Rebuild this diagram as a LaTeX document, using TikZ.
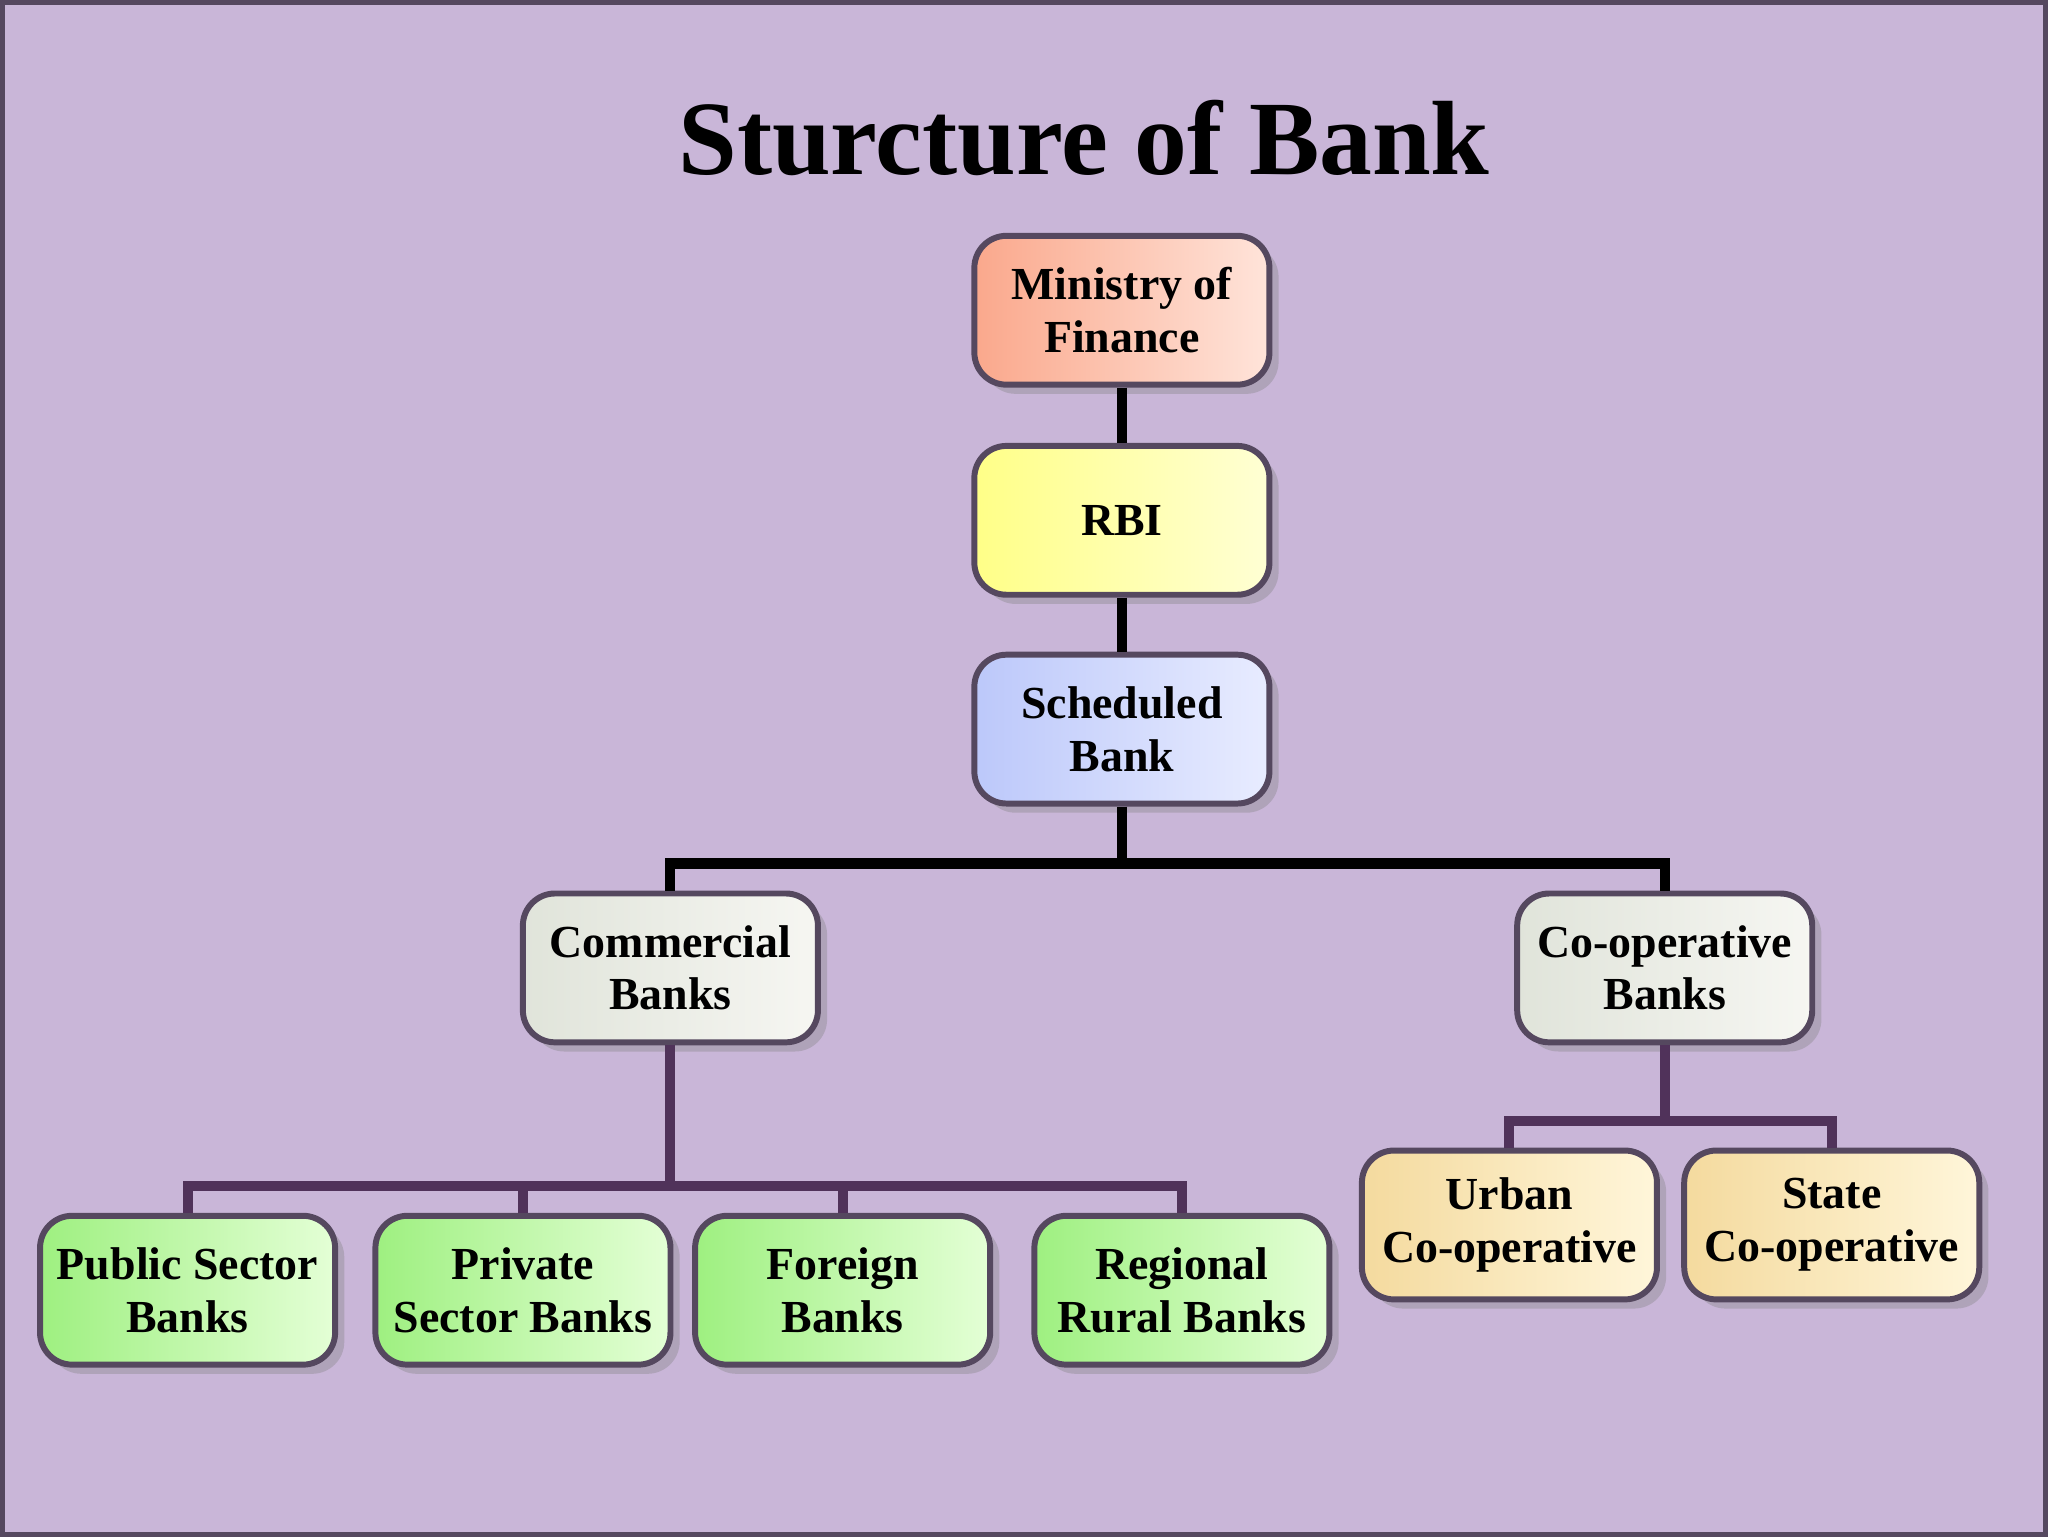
\documentclass[tikz,border=0pt]{standalone}
\usepackage{fontspec}
\setmainfont{Liberation Serif}
\usetikzlibrary{shadows}
\definecolor{bg}{RGB}{201,182,216}
\definecolor{edge}{RGB}{85,72,95}
\definecolor{lnk}{RGB}{80,50,90}
\tikzset{
 box/.style={draw=edge,line width=1.3pt,rounded corners=7pt,minimum width=2.26cm,minimum height=1.14cm,inner xsep=1pt,
   align=center,font=\fontsize{10}{11.5}\selectfont\bfseries,drop shadow={shadow xshift=2pt,shadow yshift=-2pt,opacity=0.35}},
 ministry/.style={box,left color={rgb,255:red,250;green,168;blue,140},right color={rgb,255:red,255;green,228;blue,218}},
 rbi/.style={box,left color={rgb,255:red,255;green,255;blue,135},right color={rgb,255:red,255;green,255;blue,212}},
 sched/.style={box,left color={rgb,255:red,188;green,200;blue,250},right color={rgb,255:red,232;green,236;blue,255}},
 grey/.style={box,left color={rgb,255:red,224;green,228;blue,218},right color={rgb,255:red,246;green,246;blue,242}},
 green/.style={box,left color={rgb,255:red,158;green,240;blue,128},right color={rgb,255:red,228;green,255;blue,214}},
 tan/.style={box,left color={rgb,255:red,244;green,218;blue,158},right color={rgb,255:red,255;green,246;blue,218}},
 link/.style={line width=2.2pt},
 plink/.style={line width=2.2pt,draw=lnk}
}
\begin{document}
\begin{tikzpicture}[x=0.01cm,y=-0.01cm]
\fill[bg] (0,0) rectangle (1568,1176);
\draw[edge,line width=1pt] (1,1) rectangle (1567,1175);
\node[font=\fontsize{23}{27}\selectfont\bfseries] (title) at (830,105) {Sturcture of Bank};
\node[ministry] (mof) at (859,237) {Ministry of\\Finance};
\node[rbi] (rbi) at (859,398) {RBI};
\node[sched] (sb) at (859,558) {Scheduled\\Bank};
\node[grey] (cb) at (513,741) {Commercial\\Banks};
\node[grey] (co) at (1275,741) {Co-operative\\Banks};
\node[green] (pub) at (143,988) {Public Sector\\Banks};
\node[green] (pri) at (400,988) {Private\\Sector Banks};
\node[green] (for) at (645,988) {Foreign\\Banks};
\node[green] (rrb) at (905,988) {Regional\\Rural Banks};
\node[tan] (urb) at (1156,938) {Urban\\Co-operative};
\node[tan] (sta) at (1403,938) {State\\Co-operative};
\coordinate (h1) at (859,661);
\coordinate (h2) at (513,908);
\coordinate (h3) at (1275,858);
\draw[link] (mof) -- (rbi);
\draw[link] (rbi) -- (sb);
\draw[link] (sb) -- (h1);
\draw[link] (h1) -| (cb);
\draw[link] (h1) -| (co);
\draw[plink] (cb) -- (h2);
\draw[plink] (h2) -| (pub);
\draw[plink] (h2) -| (pri);
\draw[plink] (h2) -| (for);
\draw[plink] (h2) -| (rrb);
\draw[plink] (co) -- (h3);
\draw[plink] (h3) -| (urb);
\draw[plink] (h3) -| (sta);
\end{tikzpicture}
\end{document}
